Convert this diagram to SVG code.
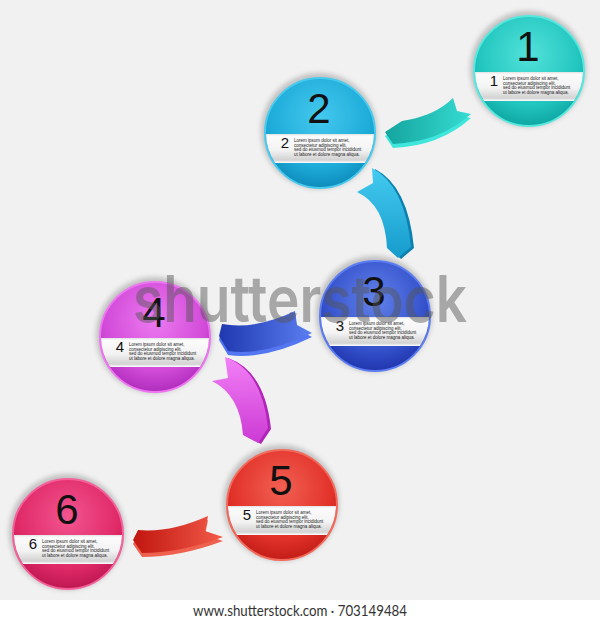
<svg xmlns="http://www.w3.org/2000/svg" width="600" height="620" viewBox="0 0 600 620">
<style>
.big{font-family:"Liberation Sans",Arial,sans-serif;font-size:42px;fill:#111;text-anchor:middle}
.sn{font-family:"Liberation Sans",Arial,sans-serif;font-size:15px;fill:#111;text-anchor:middle}
.tx{font-family:"Liberation Sans",Arial,sans-serif;font-size:4.5px;fill:#1a1a1a}
.band{fill:url(#band)}
.shadow{fill:#9a9a9a;opacity:.55;filter:url(#blur)}
.wm{font-family:Inter,"Open Sans",sans-serif;font-weight:600;font-size:64px;fill:#555;opacity:.47}
.foot{font-family:Lato,"Open Sans",sans-serif;font-size:15px;fill:#333;text-anchor:middle}
</style>
<defs>
<filter id="blur" x="-20%" y="-20%" width="140%" height="140%"><feGaussianBlur stdDeviation="2.5"/></filter>
<linearGradient id="band" x1="0" y1="0" x2="0" y2="1">
<stop offset="0" stop-color="#e2e2e2"/><stop offset="0.08" stop-color="#fbfbfb"/><stop offset="0.55" stop-color="#f3f3f3"/><stop offset="0.9" stop-color="#d2d2d2"/><stop offset="1" stop-color="#ffffff"/>
</linearGradient>
<radialGradient id="g1" cx="50%" cy="35%" r="65%"><stop offset="0" stop-color="#52e2da"/><stop offset="0.7" stop-color="#22c6bf"/><stop offset="1" stop-color="#0fa6a2"/></radialGradient>
<radialGradient id="g2" cx="50%" cy="35%" r="65%"><stop offset="0" stop-color="#44c8ee"/><stop offset="0.7" stop-color="#1eacd9"/><stop offset="1" stop-color="#0e8cbb"/></radialGradient>
<radialGradient id="g3" cx="50%" cy="35%" r="65%"><stop offset="0" stop-color="#6282ea"/><stop offset="0.7" stop-color="#3552cc"/><stop offset="1" stop-color="#2036ae"/></radialGradient>
<radialGradient id="g4" cx="50%" cy="35%" r="65%"><stop offset="0" stop-color="#ec7af0"/><stop offset="0.7" stop-color="#d24bd9"/><stop offset="1" stop-color="#b02dbb"/></radialGradient>
<radialGradient id="g5" cx="50%" cy="35%" r="65%"><stop offset="0" stop-color="#f26052"/><stop offset="0.7" stop-color="#e2322a"/><stop offset="1" stop-color="#c21d17"/></radialGradient>
<radialGradient id="g6" cx="50%" cy="35%" r="65%"><stop offset="0" stop-color="#f25590"/><stop offset="0.7" stop-color="#e02a68"/><stop offset="1" stop-color="#be1751"/></radialGradient>
<linearGradient id="aA" x1="0" y1="0" x2="1" y2="0"><stop offset="0" stop-color="#14a49e"/><stop offset="1" stop-color="#36dcd2"/></linearGradient>
<linearGradient id="aB" x1="0" y1="0" x2="0" y2="1"><stop offset="0" stop-color="#44cbf0"/><stop offset="1" stop-color="#169bcc"/></linearGradient>
<linearGradient id="aC" x1="0" y1="0" x2="1" y2="0"><stop offset="0" stop-color="#1f38b0"/><stop offset="1" stop-color="#5a7ef0"/></linearGradient>
<linearGradient id="aD" x1="0" y1="0" x2="0" y2="1"><stop offset="0" stop-color="#f280f6"/><stop offset="1" stop-color="#cc3ad4"/></linearGradient>
<linearGradient id="aE" x1="0" y1="0" x2="1" y2="0"><stop offset="0" stop-color="#c0160f"/><stop offset="1" stop-color="#f25a48"/></linearGradient>
<path id="bandShape" d="M-54,1 H54 A54 54 0 0 1 44.9,30 H-44.9 A54 54 0 0 1 -54,1 Z"/>
</defs>
<rect x="0" y="0" width="600" height="600" fill="#f1f1f1"/>
<rect x="0" y="600" width="600" height="20" fill="#ffffff"/>

<g id="connectors">
<g id="arrow-1-2">
<path d="M453,102 Q435,120 402,125 L385,136 L393,148 Q440,146 471,118 L457,115 Z" fill="#3fe6dc"/>
<path d="M453,98 Q435,116 402,121 L385,132 L393,144 Q440,142 471,114 L457,111 Z" fill="url(#aA)"/>
</g>
<g id="arrow-2-3">
<path d="M375,169 Q408,186 414,248 L401,259 L390,249 Q388,206 360,193 L376,184 Z" fill="#0c80ae"/>
<path d="M372,168 Q405,185 411,247 L398,258 L387,248 Q385,205 357,192 L373,183 Z" fill="url(#aB)"/>
</g>
<g id="arrow-3-4">
<path d="M295,315 Q255,334 222,328 L219,340 L228,355 Q265,360 312,337 L297,329 Z" fill="#5476f2"/>
<path d="M295,311 Q255,330 222,324 L219,336 L228,351 Q265,356 312,333 L297,325 Z" fill="url(#aC)"/>
</g>
<g id="arrow-4-5">
<path d="M228,358 Q265,371 271,429 L261,444 L246,436 Q243,396 215,382 L231,379 Z" fill="#b024b8"/>
<path d="M225,357 Q262,370 268,428 L258,443 L243,435 Q240,395 212,381 L228,378 Z" fill="url(#aD)"/>
</g>
<g id="arrow-5-6">
<path d="M208,520 Q170,537 138,534 L133,544 L142,557 Q180,557 223,541 L205,535 Z" fill="#f0604e"/>
<path d="M208,516 Q170,533 138,530 L133,540 L142,553 Q180,553 223,537 L205,531 Z" fill="url(#aE)"/>
</g>
</g>

<g id="node1" transform="translate(529,71)">
<circle class="shadow" cx="-1" cy="-2" r="58"/>
<circle r="55" fill="url(#g1)" stroke="#55e8de" stroke-width="2"/>
<use href="#bandShape" class="band"/>
<text class="big" x="-1" y="-10">1</text>
<text class="sn" x="-35" y="15">1</text>
<text class="tx" x="-26" y="9">Lorem ipsum dolor sit amet,</text>
<text class="tx" x="-26" y="13.7">consectetur adipiscing elit,</text>
<text class="tx" x="-26" y="18.4">sed do eiusmod tempor incididunt</text>
<text class="tx" x="-26" y="23.1">ut labore et dolore magna aliqua.</text>
</g>
<g id="node2" transform="translate(320,133)">
<circle class="shadow" cx="-1" cy="-2" r="58"/>
<circle r="55" fill="url(#g2)" stroke="#48caef" stroke-width="2"/>
<use href="#bandShape" class="band"/>
<text class="big" x="-1" y="-10">2</text>
<text class="sn" x="-35" y="15">2</text>
<text class="tx" x="-26" y="9">Lorem ipsum dolor sit amet,</text>
<text class="tx" x="-26" y="13.7">consectetur adipiscing elit,</text>
<text class="tx" x="-26" y="18.4">sed do eiusmod tempor incididunt</text>
<text class="tx" x="-26" y="23.1">ut labore et dolore magna aliqua.</text>
</g>
<g id="node3" transform="translate(375,316)">
<circle class="shadow" cx="-1" cy="-2" r="58"/>
<circle r="55" fill="url(#g3)" stroke="#5c7cf2" stroke-width="2"/>
<use href="#bandShape" class="band"/>
<text class="big" x="-1" y="-10">3</text>
<text class="sn" x="-35" y="15">3</text>
<text class="tx" x="-26" y="9">Lorem ipsum dolor sit amet,</text>
<text class="tx" x="-26" y="13.7">consectetur adipiscing elit,</text>
<text class="tx" x="-26" y="18.4">sed do eiusmod tempor incididunt</text>
<text class="tx" x="-26" y="23.1">ut labore et dolore magna aliqua.</text>
</g>
<g id="node4" transform="translate(155,337)">
<circle class="shadow" cx="-1" cy="-2" r="58"/>
<circle r="55" fill="url(#g4)" stroke="#ee74f2" stroke-width="2"/>
<use href="#bandShape" class="band"/>
<text class="big" x="-1" y="-10">4</text>
<text class="sn" x="-35" y="15">4</text>
<text class="tx" x="-26" y="9">Lorem ipsum dolor sit amet,</text>
<text class="tx" x="-26" y="13.7">consectetur adipiscing elit,</text>
<text class="tx" x="-26" y="18.4">sed do eiusmod tempor incididunt</text>
<text class="tx" x="-26" y="23.1">ut labore et dolore magna aliqua.</text>
</g>
<g id="node5" transform="translate(282,505)">
<circle class="shadow" cx="-1" cy="-2" r="58"/>
<circle r="55" fill="url(#g5)" stroke="#f26a5c" stroke-width="2"/>
<use href="#bandShape" class="band"/>
<text class="big" x="-1" y="-10">5</text>
<text class="sn" x="-35" y="15">5</text>
<text class="tx" x="-26" y="9">Lorem ipsum dolor sit amet,</text>
<text class="tx" x="-26" y="13.7">consectetur adipiscing elit,</text>
<text class="tx" x="-26" y="18.4">sed do eiusmod tempor incididunt</text>
<text class="tx" x="-26" y="23.1">ut labore et dolore magna aliqua.</text>
</g>
<g id="node6" transform="translate(68,534)">
<circle class="shadow" cx="-1" cy="-2" r="58"/>
<circle r="55" fill="url(#g6)" stroke="#f4609a" stroke-width="2"/>
<use href="#bandShape" class="band"/>
<text class="big" x="-1" y="-10">6</text>
<text class="sn" x="-35" y="15">6</text>
<text class="tx" x="-26" y="9">Lorem ipsum dolor sit amet,</text>
<text class="tx" x="-26" y="13.7">consectetur adipiscing elit,</text>
<text class="tx" x="-26" y="18.4">sed do eiusmod tempor incididunt</text>
<text class="tx" x="-26" y="23.1">ut labore et dolore magna aliqua.</text>
</g>

<text class="wm" x="133" y="322" textLength="334" lengthAdjust="spacingAndGlyphs">shutterstock</text>
<text class="foot" x="300" y="616" textLength="214" lengthAdjust="spacingAndGlyphs">www.shutterstock.com · 703149484</text>
</svg>
